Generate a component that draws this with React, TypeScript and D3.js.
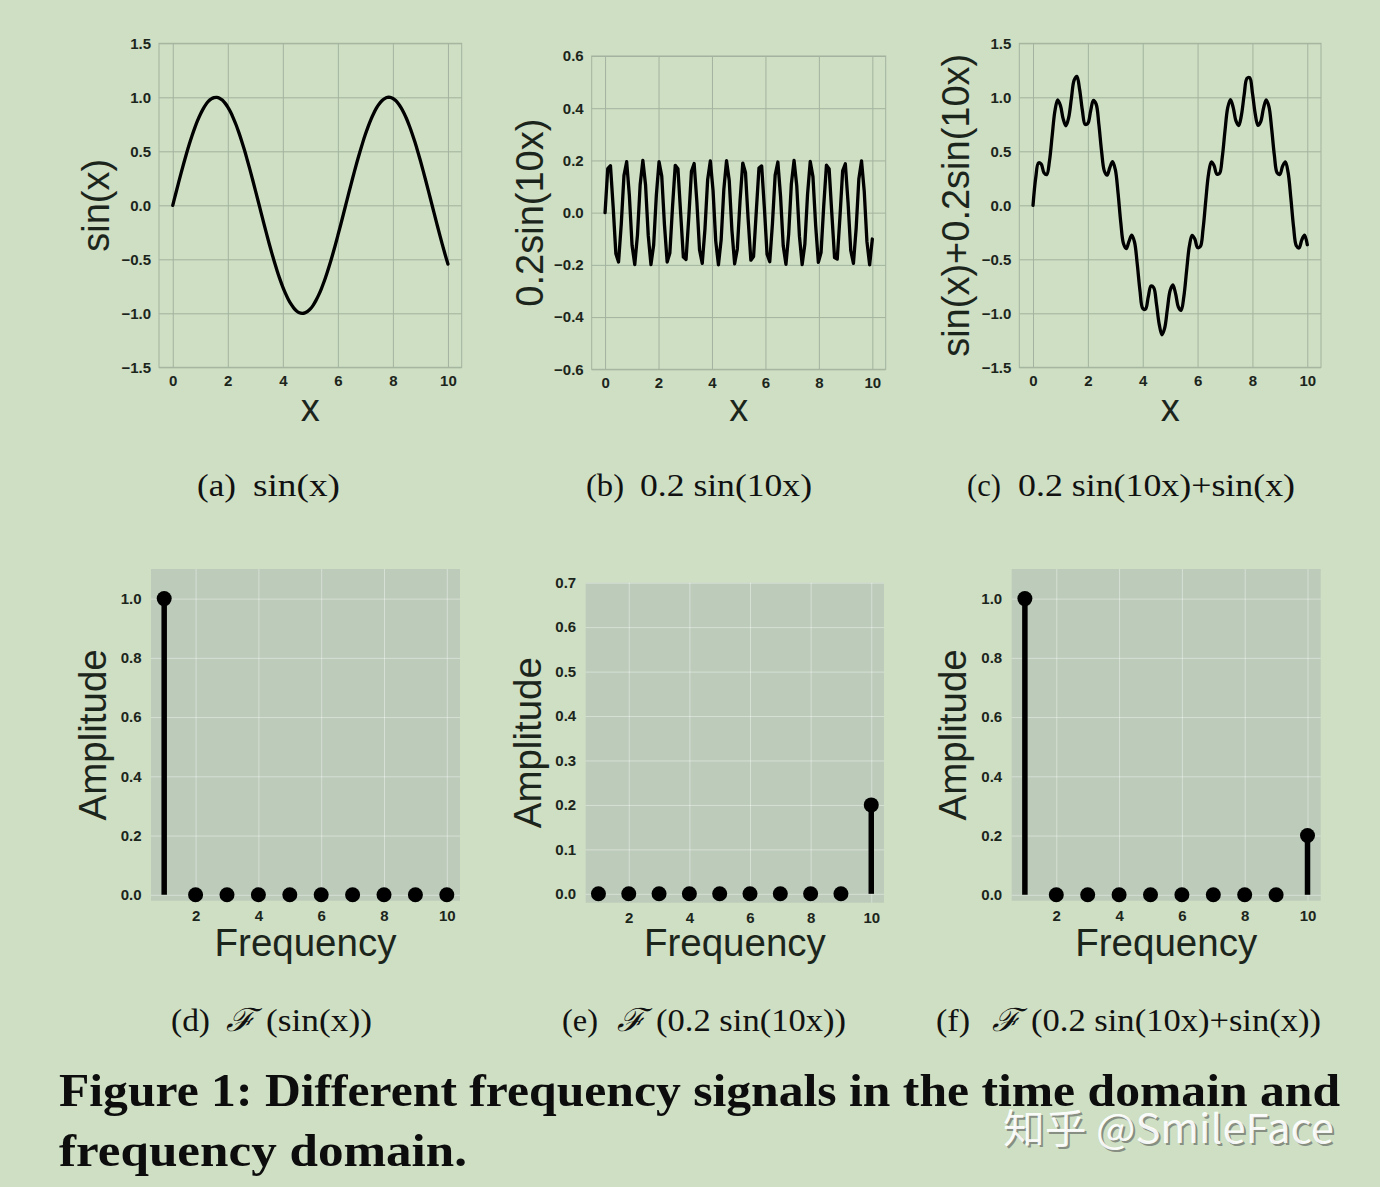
import { useRef, useEffect } from 'react';
import * as d3 from 'd3';

/* ── colours ─────────────────────────────────────────── */
const PAGE_BG = '#cedfc3';
const PANEL_BG = '#bccbba';
const GRID = '#a3b39f';
const INK = '#1c251c';
const SANS = "'Liberation Sans', Arial, sans-serif";
const SERIF = "'Liberation Serif', 'DejaVu Serif', serif";

/* ── time-domain samples ──────── */
const TIME_X = [
  0, 0.1, 0.2, 0.3, 0.4, 0.5, 0.6, 0.7, 0.8, 0.9,
  1.0, 1.1, 1.2, 1.3, 1.4, 1.5, 1.6, 1.7, 1.8, 1.9,
  2.0, 2.1, 2.2, 2.3, 2.4, 2.5, 2.6, 2.7, 2.8, 2.9,
  3.0, 3.1, 3.2, 3.3, 3.4, 3.5, 3.6, 3.7, 3.8, 3.9,
  4.0, 4.1, 4.2, 4.3, 4.4, 4.5, 4.6, 4.7, 4.8, 4.9,
  5.0, 5.1, 5.2, 5.3, 5.4, 5.5, 5.6, 5.7, 5.8, 5.9,
  6.0, 6.1, 6.2, 6.3, 6.4, 6.5, 6.6, 6.7, 6.8, 6.9,
  7.0, 7.1, 7.2, 7.3, 7.4, 7.5, 7.6, 7.7, 7.8, 7.9,
  8.0, 8.1, 8.2, 8.3, 8.4, 8.5, 8.6, 8.7, 8.8, 8.9,
  9.0, 9.1, 9.2, 9.3, 9.4, 9.5, 9.6, 9.7, 9.8, 9.9,
  10.0,
];

// (a) sin(x)
const SIN_X = [
  0, 0.100, 0.199, 0.296, 0.389, 0.479, 0.565, 0.644, 0.717, 0.783,
  0.841, 0.891, 0.932, 0.964, 0.985, 0.997, 1.000, 0.992, 0.974, 0.946,
  0.909, 0.863, 0.808, 0.746, 0.675, 0.598, 0.516, 0.427, 0.335, 0.239,
  0.141, 0.042, -0.058, -0.158, -0.256, -0.351, -0.443, -0.530, -0.612, -0.688,
  -0.757, -0.818, -0.872, -0.916, -0.952, -0.978, -0.994, -1.000, -0.996, -0.982,
  -0.959, -0.926, -0.883, -0.832, -0.773, -0.706, -0.631, -0.551, -0.465, -0.374,
  -0.279, -0.182, -0.083, 0.017, 0.117, 0.215, 0.312, 0.405, 0.494, 0.578,
  0.657, 0.729, 0.794, 0.850, 0.899, 0.938, 0.968, 0.988, 0.999, 0.999,
  0.989, 0.970, 0.941, 0.902, 0.855, 0.799, 0.734, 0.663, 0.585, 0.501,
  0.412, 0.319, 0.223, 0.125, 0.025, -0.075, -0.174, -0.272, -0.367, -0.458,
  -0.544,
];

// (c) sin(x)+0.2sin(10x) as plotted
const SIN_MIX = [
  0, 0.257, 0.393, 0.381, 0.301, 0.284, 0.410, 0.648, 0.876, 0.977,
  0.924, 0.800, 0.736, 0.811, 0.992, 1.158, 1.193, 1.071, 0.879, 0.750,
  0.759, 0.873, 0.971, 0.938, 0.752, 0.501, 0.318, 0.279, 0.348, 0.404,
  0.332, 0.115, -0.159, -0.356, -0.401, -0.334, -0.276, -0.340, -0.542, -0.791,
  -0.955, -0.962, -0.851, -0.748, -0.762, -0.911, -1.100, -1.199, -1.137, -0.959,
  -0.789, -0.738, -0.820, -0.941, -0.972, -0.844, -0.605, -0.379, -0.278, -0.313,
  -0.391, -0.382, -0.219, 0.047, 0.290, 0.401, 0.369, 0.290, 0.295, 0.445,
  0.691, 0.904, 0.978, 0.904, 0.781, 0.738, 0.837, 1.025, 1.175, 1.182,
  1.040, 0.850, 0.741, 0.774, 0.895, 0.977, 0.916, 0.711, 0.462, 0.301,
  0.286, 0.363, 0.403, 0.305, 0.069, -0.201, -0.374, -0.395, -0.320, -0.276,
  -0.365,
];

// (b) is sampled on a 100-point grid, hence the jagged peaks
const LIN_X = [
  0, 0.101, 0.202, 0.303, 0.404, 0.505, 0.606, 0.707, 0.808, 0.909,
  1.010, 1.111, 1.212, 1.313, 1.414, 1.515, 1.616, 1.717, 1.818, 1.919,
  2.020, 2.121, 2.222, 2.323, 2.424, 2.525, 2.626, 2.727, 2.828, 2.929,
  3.030, 3.131, 3.232, 3.333, 3.434, 3.535, 3.636, 3.737, 3.838, 3.939,
  4.040, 4.141, 4.242, 4.343, 4.444, 4.545, 4.646, 4.747, 4.848, 4.949,
  5.051, 5.152, 5.253, 5.354, 5.455, 5.556, 5.657, 5.758, 5.859, 5.960,
  6.061, 6.162, 6.263, 6.364, 6.465, 6.566, 6.667, 6.768, 6.869, 6.970,
  7.071, 7.172, 7.273, 7.374, 7.475, 7.576, 7.677, 7.778, 7.879, 7.980,
  8.081, 8.182, 8.283, 8.384, 8.485, 8.586, 8.687, 8.788, 8.889, 8.990,
  9.091, 9.192, 9.293, 9.394, 9.495, 9.596, 9.697, 9.798, 9.899, 10,
];

const SIN_10X = [
  0, 0.169, 0.180, 0.022, -0.157, -0.189, -0.044, 0.142, 0.195, 0.066,
  -0.125, -0.199, -0.086, 0.107, 0.200, 0.106, -0.088, -0.199, -0.124, 0.067,
  0.195, 0.140, -0.046, -0.189, -0.155, 0.024, 0.181, 0.168, -0.002, -0.170,
  -0.179, -0.021, 0.158, 0.188, 0.043, -0.143, -0.194, -0.064, 0.126, 0.198,
  0.085, -0.109, -0.200, -0.104, 0.089, 0.199, 0.123, -0.069, -0.196, -0.139,
  0.047, 0.190, 0.154, -0.026, -0.182, -0.168, 0.003, 0.171, 0.179, 0.019,
  -0.159, -0.188, -0.041, 0.144, 0.194, 0.062, -0.128, -0.198, -0.083, 0.110,
  0.200, 0.103, -0.091, -0.199, -0.121, 0.070, 0.196, 0.138, -0.049, -0.190,
  -0.153, 0.027, 0.182, 0.167, -0.005, -0.172, -0.178, -0.017, 0.160, 0.187,
  0.039, -0.145, -0.194, -0.061, 0.129, 0.198, 0.082, -0.111, -0.200, -0.101,
];

/* ── frequency-domain stems (bottom row) ─────────────── */
const FREQS = [1, 2, 3, 4, 5, 6, 7, 8, 9, 10];
const AMP_SIN = [1, 0, 0, 0, 0, 0, 0, 0, 0, 0];
const AMP_SIN10 = [0, 0, 0, 0, 0, 0, 0, 0, 0, 0.2];
const AMP_MIX = [1, 0, 0, 0, 0, 0, 0, 0, 0, 0.2];

/* ── ticks ───────────────────────────────────────────── */
const TIME_TICKS = [0, 2, 4, 6, 8, 10];
const WIDE_Y_TICKS = [-1.5, -1.0, -0.5, 0, 0.5, 1.0, 1.5];
const NARROW_Y_TICKS = [-0.6, -0.4, -0.2, 0, 0.2, 0.4, 0.6];
const FREQ_TICKS = [2, 4, 6, 8, 10];
const AMP_TICKS = [0, 0.2, 0.4, 0.6, 0.8, 1.0];
const AMP_TICKS_SMALL = [0, 0.1, 0.2, 0.3, 0.4, 0.5, 0.6, 0.7];

/* ── layout ──────────────────────────────────────────── */
const TIME_PANELS = [
  { box: [159, 461.7, 43.3, 367.3], xs: TIME_X, ys: SIN_X, yDomain: [-1.5, 1.5], yTicks: WIDE_Y_TICKS, yLabel: 'sin(x)', yLabelX: 109, smooth: true },
  { box: [591.7, 885.7, 56, 369.3], xs: LIN_X, ys: SIN_10X, yDomain: [-0.6, 0.6], yTicks: NARROW_Y_TICKS, yLabel: '0.2sin(10x)', yLabelX: 543, smooth: false },
  { box: [1019.3, 1321, 43.3, 367.3], xs: TIME_X, ys: SIN_MIX, yDomain: [-1.5, 1.5], yTicks: WIDE_Y_TICKS, yLabel: 'sin(x)+0.2sin(10x)', yLabelX: 969, smooth: true },
];

const FREQ_PANELS = [
  { box: [151, 460, 569, 900.7], amps: AMP_SIN, yDomain: [-0.02, 1.1], yTicks: AMP_TICKS, yLabelX: 106 },
  { box: [585.7, 884, 582.7, 902.7], amps: AMP_SIN10, yDomain: [-0.02, 0.7], yTicks: AMP_TICKS_SMALL, yLabelX: 541 },
  { box: [1011.7, 1320.7, 569, 900.7], amps: AMP_MIX, yDomain: [-0.02, 1.1], yTicks: AMP_TICKS, yLabelX: 966 },
];

const SUB_CAPTIONS = [
  { tag: '(a)', tagX: [197, 236], body: 'sin(x)', bodyX: [253, 340], y: 496 },
  { tag: '(b)', tagX: [586, 624], body: '0.2 sin(10x)', bodyX: [640, 812], y: 496 },
  { tag: '(c)', tagX: [967, 1001], body: '0.2 sin(10x)+sin(x)', bodyX: [1018, 1295], y: 496 },
  { tag: '(d)', tagX: [171, 210], script: true, body: '(sin(x))', bodyX: [226, 372], y: 1031 },
  { tag: '(e)', tagX: [562, 598], script: true, body: '(0.2 sin(10x))', bodyX: [617, 846], y: 1031 },
  { tag: '(f)', tagX: [936, 970], script: true, body: '(0.2 sin(10x)+sin(x))', bodyX: [992, 1321], y: 1031 },
];

function styleTickText(sel, size = 15) {
  sel.select('.domain').remove();
  sel.attr('font-family', SANS).attr('font-size', size).attr('font-weight', 'bold');
  sel.selectAll('text').attr('fill', INK);
}

function drawTimePanel(svg, p) {
  const [x0, x1, y0, y1] = p.box;
  const x = d3.scaleLinear().domain([-0.5, 10.5]).range([x0, x1]);
  const y = d3.scaleLinear().domain(p.yDomain).range([y1, y0]);
  const g = svg.append('g');

  // grid
  g.append('g').attr('transform', `translate(0,${y1})`)
    .call(d3.axisBottom(x).tickValues(TIME_TICKS).tickSize(-(y1 - y0)).tickFormat(() => ''))
    .call(s => s.select('.domain').remove())
    .selectAll('line').attr('stroke', GRID).attr('stroke-width', 1);
  g.append('g').attr('transform', `translate(${x0},0)`)
    .call(d3.axisLeft(y).tickValues(p.yTicks).tickSize(-(x1 - x0)).tickFormat(() => ''))
    .call(s => s.select('.domain').remove())
    .selectAll('line').attr('stroke', GRID).attr('stroke-width', 1);
  g.append('rect')
    .attr('x', x0).attr('y', y0).attr('width', x1 - x0).attr('height', y1 - y0)
    .attr('fill', 'none').attr('stroke', GRID).attr('stroke-width', 1);

  // signal
  const line = d3.line()
    .x((d, i) => x(p.xs[i]))
    .y(d => y(d))
    .curve(p.smooth ? d3.curveCatmullRom : d3.curveLinear);
  g.append('path').datum(p.ys)
    .attr('d', line)
    .attr('fill', 'none').attr('stroke', '#000').attr('stroke-width', 3.3)
    .attr('stroke-linejoin', 'round').attr('stroke-linecap', 'round');

  // tick labels
  g.append('g').attr('transform', `translate(0,${y1})`)
    .call(d3.axisBottom(x).tickValues(TIME_TICKS).tickSize(0).tickPadding(8).tickFormat(d3.format('d')))
    .call(styleTickText);
  g.append('g').attr('transform', `translate(${x0},0)`)
    .call(d3.axisLeft(y).tickValues(p.yTicks).tickSize(0).tickPadding(8).tickFormat(d3.format('.1f')))
    .call(styleTickText);

  // axis titles
  g.append('text')
    .attr('x', (x0 + x1) / 2).attr('y', 421)
    .attr('text-anchor', 'middle')
    .attr('font-family', SANS).attr('font-size', 38).attr('fill', INK)
    .text('x');
  g.append('text')
    .attr('transform', `translate(${p.yLabelX},${(y0 + y1) / 2}) rotate(-90)`)
    .attr('text-anchor', 'middle')
    .attr('font-family', SANS).attr('font-size', 38).attr('fill', INK)
    .text(p.yLabel);
}

function drawFreqPanel(svg, p) {
  const [x0, x1, y0, y1] = p.box;
  const x = d3.scaleLinear().domain([0.58, 10.42]).range([x0, x1]);
  const y = d3.scaleLinear().domain(p.yDomain).range([y1, y0]);
  const g = svg.append('g');

  g.append('rect')
    .attr('x', x0).attr('y', y0).attr('width', x1 - x0).attr('height', y1 - y0)
    .attr('fill', PANEL_BG);

  // white grid
  g.append('g').attr('transform', `translate(0,${y1})`)
    .call(d3.axisBottom(x).tickValues(FREQ_TICKS).tickSize(-(y1 - y0)).tickFormat(() => ''))
    .call(s => s.select('.domain').remove())
    .selectAll('line').attr('stroke', '#fff').attr('stroke-opacity', 0.4).attr('stroke-width', 1);
  g.append('g').attr('transform', `translate(${x0},0)`)
    .call(d3.axisLeft(y).tickValues(p.yTicks).tickSize(-(x1 - x0)).tickFormat(() => ''))
    .call(s => s.select('.domain').remove())
    .selectAll('line').attr('stroke', '#fff').attr('stroke-opacity', 0.4).attr('stroke-width', 1);

  const pts = FREQS.map((f, i) => ({ f, a: p.amps[i] }));

  // stems
  g.selectAll('line.stem')
    .data(pts.filter(d => d.a !== 0))
    .enter().append('line')
    .attr('class', 'stem')
    .attr('x1', d => x(d.f)).attr('x2', d => x(d.f))
    .attr('y1', y(0)).attr('y2', d => y(d.a))
    .attr('stroke', '#000').attr('stroke-width', 5.5);

  // markers
  g.selectAll('circle.head')
    .data(pts)
    .enter().append('circle')
    .attr('class', 'head')
    .attr('cx', d => x(d.f)).attr('cy', d => y(d.a))
    .attr('r', 7.5).attr('fill', '#000');

  g.append('g').attr('transform', `translate(0,${y1})`)
    .call(d3.axisBottom(x).tickValues(FREQ_TICKS).tickSize(0).tickPadding(9.5).tickFormat(d3.format('d')))
    .call(styleTickText);
  g.append('g').attr('transform', `translate(${x0},0)`)
    .call(d3.axisLeft(y).tickValues(p.yTicks).tickSize(0).tickPadding(9.5).tickFormat(d3.format('.1f')))
    .call(styleTickText);

  g.append('text')
    .attr('x', (x0 + x1) / 2).attr('y', 956)
    .attr('text-anchor', 'middle')
    .attr('font-family', SANS).attr('font-size', 38.5).attr('fill', INK)
    .text('Frequency');
  g.append('text')
    .attr('transform', `translate(${p.yLabelX},${(y0 + y1) / 2}) rotate(-90)`)
    .attr('text-anchor', 'middle')
    .attr('font-family', SANS).attr('font-size', 38.5).attr('fill', INK)
    .text('Amplitude');
}

function drawCaptions(svg) {
  SUB_CAPTIONS.forEach(c => {
    svg.append('text')
      .attr('x', c.tagX[0]).attr('y', c.y)
      .attr('textLength', c.tagX[1] - c.tagX[0]).attr('lengthAdjust', 'spacingAndGlyphs')
      .attr('font-family', SERIF).attr('font-size', 32).attr('fill', '#111')
      .text(c.tag);
    const t = svg.append('text')
      .attr('x', c.bodyX[0]).attr('y', c.y)
      .attr('textLength', c.bodyX[1] - c.bodyX[0]).attr('lengthAdjust', 'spacingAndGlyphs')
      .attr('font-family', SERIF).attr('font-size', 32).attr('fill', '#111');
    if (c.script) {
      t.append('tspan').attr('font-family', "'DejaVu Serif', serif").attr('font-style', 'italic').text('ℱ ');
    }
    t.append('tspan').text(c.body);
  });

  // figure caption
  svg.append('text')
    .attr('x', 59).attr('y', 1106)
    .attr('textLength', 1281).attr('lengthAdjust', 'spacingAndGlyphs')
    .attr('font-family', SERIF).attr('font-size', 47).attr('font-weight', 'bold').attr('fill', '#0d0d0d')
    .text('Figure 1: Different frequency signals in the time domain and');
  svg.append('text')
    .attr('x', 59).attr('y', 1166)
    .attr('textLength', 408).attr('lengthAdjust', 'spacingAndGlyphs')
    .attr('font-family', SERIF).attr('font-size', 47).attr('font-weight', 'bold').attr('fill', '#0d0d0d')
    .text('frequency domain.');

  // watermark, with a soft shadow underneath
  const mark = '知乎 @SmileFace';
  svg.append('text')
    .attr('x', 1005).attr('y', 1145)
    .attr('textLength', 331).attr('lengthAdjust', 'spacingAndGlyphs')
    .attr('font-family', "'Noto Sans CJK SC', 'Noto Sans', sans-serif").attr('font-size', 40)
    .attr('fill', '#4a4a4a').attr('fill-opacity', 0.55)
    .text(mark);
  svg.append('text')
    .attr('x', 1003).attr('y', 1143)
    .attr('textLength', 331).attr('lengthAdjust', 'spacingAndGlyphs')
    .attr('font-family', "'Noto Sans CJK SC', 'Noto Sans', sans-serif").attr('font-size', 40)
    .attr('fill', '#ffffff').attr('fill-opacity', 0.92)
    .text(mark);
}

export default function App() {
  const svgRef = useRef(null);

  useEffect(() => {
    document.body.style.margin = '0';
    document.body.style.background = PAGE_BG;

    const svg = d3.select(svgRef.current);
    svg.selectAll('*').remove();

    svg.append('rect').attr('width', 1380).attr('height', 1187).attr('fill', PAGE_BG);

    TIME_PANELS.forEach(p => drawTimePanel(svg, p));
    FREQ_PANELS.forEach(p => drawFreqPanel(svg, p));
    drawCaptions(svg);
  }, []);

  return (
    <svg
      ref={svgRef}
      width={1380}
      height={1187}
      style={{ display: 'block', position: 'absolute', left: 0, top: 0 }}
    />
  );
}
